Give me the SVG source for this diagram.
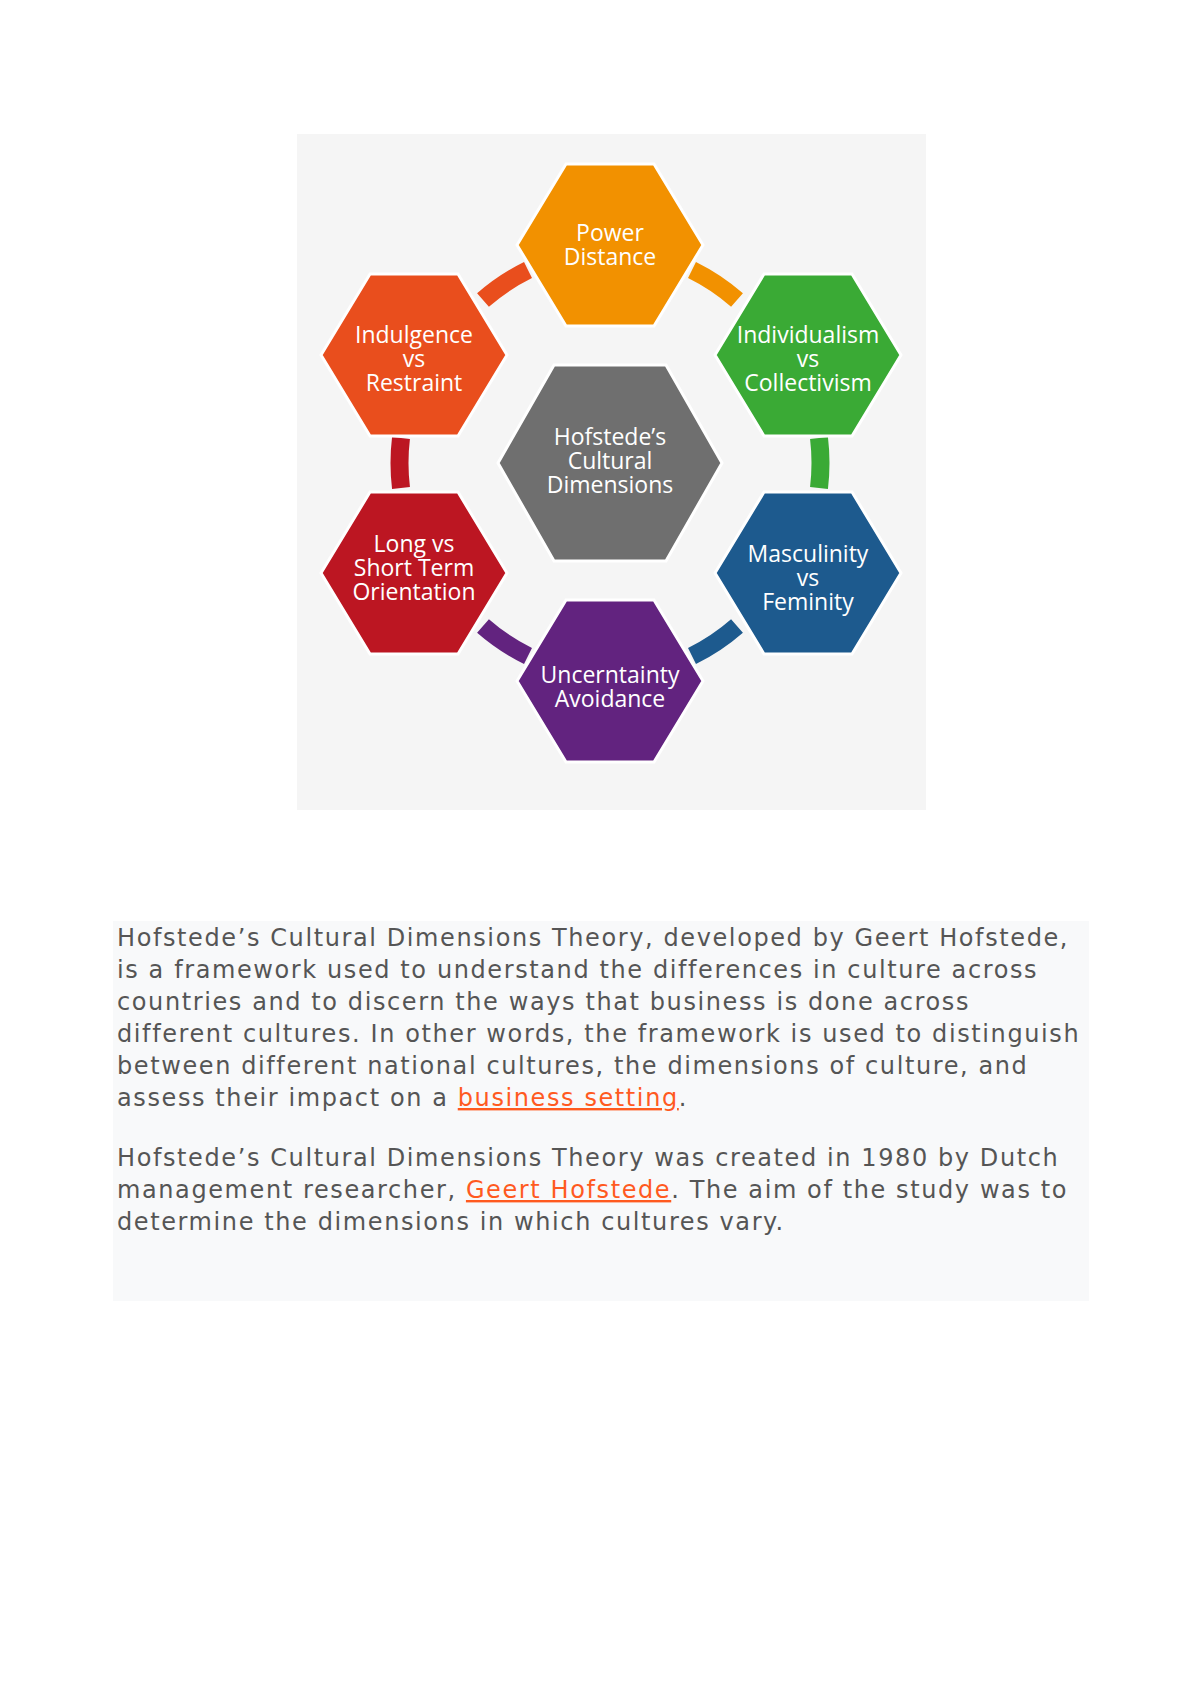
<svg xmlns="http://www.w3.org/2000/svg" width="1200" height="1698" viewBox="0 0 1200 1698">
<defs><style>
.hx{stroke:#fff;stroke-width:3}
.ht{font-family:"Open Sans","DejaVu Sans",sans-serif;font-size:23px;fill:#fff;text-anchor:middle}
.arc{fill:none;stroke-width:18}
.p{font-family:"DejaVu Sans",sans-serif;font-size:24px;fill:#555;letter-spacing:1.6px}
.lk{fill:#FF5A1F;text-decoration:underline}
</style>
<polygon id="h" points="-93,0 -44,-81 44,-81 93,0 44,81 -44,81"/>
</defs>
<rect width="1200" height="1698" fill="#fff"/>
<rect x="297" y="134" width="629" height="676" fill="#F5F5F5"/>
<g transform="translate(-3,-3)">
<g id="connectors">
<path class="arc" stroke="#E94E1D" d="M486,303 A209,209 0 0 1 531,273"/>
<path class="arc" stroke="#F29100" d="M695,273 A209,209 0 0 1 740,303"/>
<path class="arc" stroke="#3AAA35" d="M822,441 A209,209 0 0 1 822,491"/>
<path class="arc" stroke="#1D5A8E" d="M740,629 A209,209 0 0 1 695,659"/>
<path class="arc" stroke="#62237F" d="M531,659 A209,209 0 0 1 486,629"/>
<path class="arc" stroke="#BC1622" d="M404,491 A209,209 0 0 1 404,441"/>
</g>
<g id="center"><polygon class="hx" fill="#6F6F6F" points="501,466 557,368 669,368 725,466 669,564 557,564"/>
<text class="ht" x="613" y="448">Hofstede’s</text><text class="ht" x="613" y="472">Cultural</text><text class="ht" x="613" y="496">Dimensions</text></g>
<g id="power"><use href="#h" class="hx" fill="#F29100" x="613" y="248"/>
<text class="ht" x="613" y="244">Power</text><text class="ht" x="613" y="268">Distance</text></g>
<g id="indiv"><use href="#h" class="hx" fill="#3AAA35" x="811" y="358"/>
<text class="ht" x="811" y="346">Individualism</text><text class="ht" x="811" y="370">vs</text><text class="ht" x="811" y="394">Collectivism</text></g>
<g id="masc"><use href="#h" class="hx" fill="#1D5A8E" x="811" y="576"/>
<text class="ht" x="811" y="565">Masculinity</text><text class="ht" x="811" y="589">vs</text><text class="ht" x="811" y="613">Feminity</text></g>
<g id="unc"><use href="#h" class="hx" fill="#62237F" x="613" y="684"/>
<text class="ht" x="613" y="686">Uncerntainty</text><text class="ht" x="613" y="710">Avoidance</text></g>
<g id="long"><use href="#h" class="hx" fill="#BC1622" x="417" y="576"/>
<text class="ht" x="417" y="555">Long vs</text><text class="ht" x="417" y="579">Short Term</text><text class="ht" x="417" y="603">Orientation</text></g>
<g id="indul"><use href="#h" class="hx" fill="#E94E1D" x="417" y="358"/>
<text class="ht" x="417" y="346">Indulgence</text><text class="ht" x="417" y="370">vs</text><text class="ht" x="417" y="394">Restraint</text></g>
</g>
<rect x="113" y="921" width="976" height="380" fill="#F8F9FA"/>
<g>
<text class="p" x="117" y="946">Hofstede’s Cultural Dimensions Theory, developed by Geert Hofstede,</text>
<text class="p" x="117" y="978">is a framework used to understand the differences in culture across</text>
<text class="p" x="117" y="1010">countries and to discern the ways that business is done across</text>
<text class="p" x="117" y="1042">different cultures. In other words, the framework is used to distinguish</text>
<text class="p" x="117" y="1074">between different national cultures, the dimensions of culture, and</text>
<text class="p" x="117" y="1106">assess their impact on a <tspan class="lk">business setting</tspan>.</text>
<text class="p" x="117" y="1166">Hofstede’s Cultural Dimensions Theory was created in 1980 by Dutch</text>
<text class="p" x="117" y="1198">management researcher, <tspan class="lk">Geert Hofstede</tspan>. The aim of the study was to</text>
<text class="p" x="117" y="1230">determine the dimensions in which cultures vary.</text>
</g>
</svg>
